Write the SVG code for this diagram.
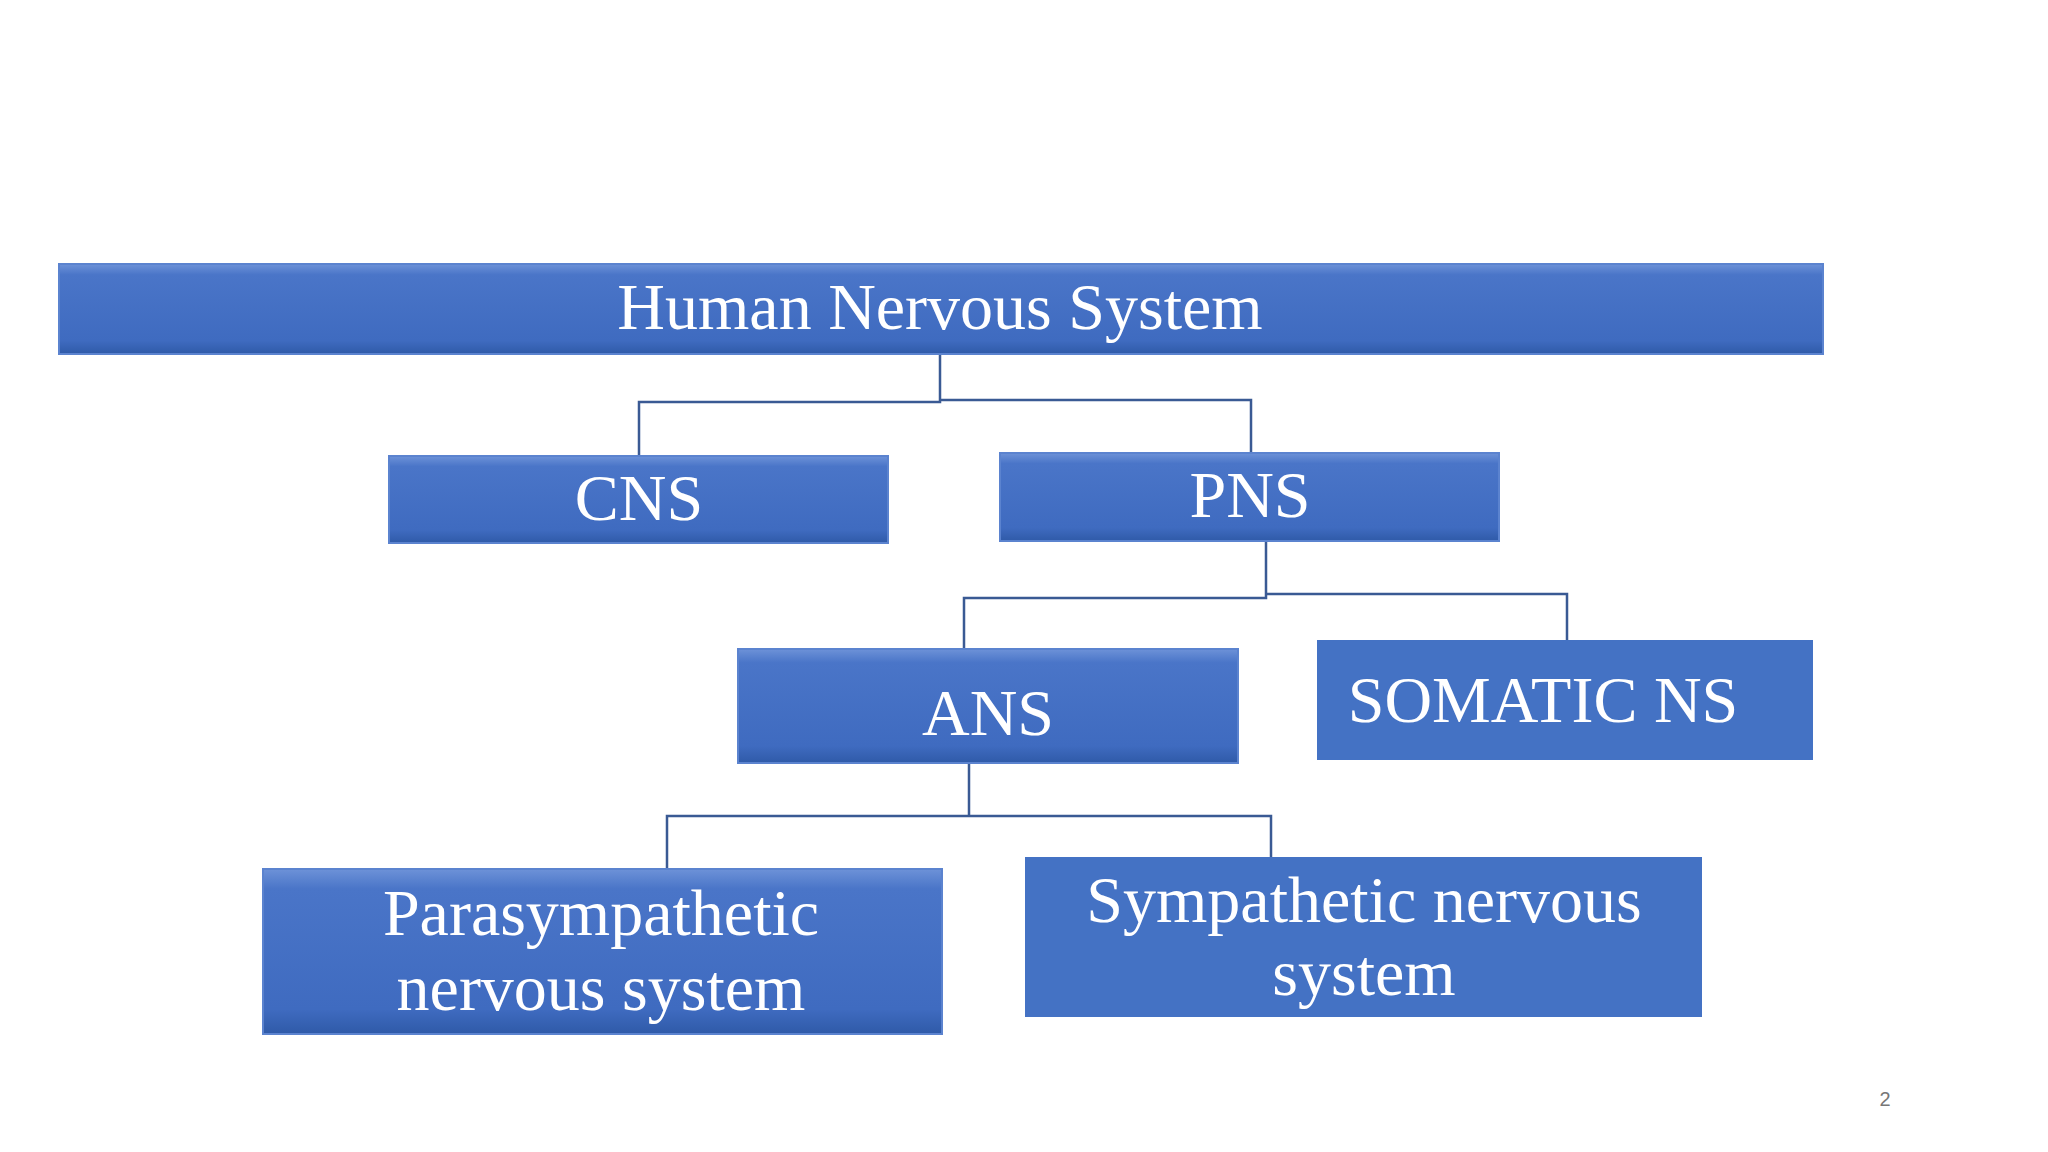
<svg xmlns="http://www.w3.org/2000/svg" width="2048" height="1152" viewBox="0 0 2048 1152">
<defs>
<linearGradient id="g" x1="0" y1="0" x2="0" y2="1">
<stop offset="0" stop-color="#6d92d8"/><stop offset="0.12" stop-color="#4a75c8"/><stop offset="0.85" stop-color="#3f6bc0"/><stop offset="1" stop-color="#2f5aa8"/>
</linearGradient>
<style>
.b{fill:url(#g);stroke:#5b83cf;stroke-width:2}
.f{fill:#4472c4}
.t{font-family:"Liberation Serif",serif;font-size:66px;fill:#fff;text-anchor:middle}
.c{fill:none;stroke:#3a5a94;stroke-width:2.5}
</style>
</defs>
<rect width="2048" height="1152" fill="#fff"/>
<g id="connectors">
<path class="c" d="M940 354V402H639V456M940 400H1251V453"/>
<path class="c" d="M1266 541V598H964V649M1266 594H1567V640"/>
<path class="c" d="M969 763V816H667V869M969 816H1271V857"/>
</g>
<g id="hns"><rect class="b" x="59" y="264" width="1764" height="90"/><text class="t" x="940" y="329">Human Nervous System</text></g>
<g id="cns"><rect class="b" x="389" y="456" width="499" height="87"/><text class="t" x="639" y="520">CNS</text></g>
<g id="pns"><rect class="b" x="1000" y="453" width="499" height="88"/><text class="t" x="1250" y="517">PNS</text></g>
<g id="ans"><rect class="b" x="738" y="649" width="500" height="114"/><text class="t" x="988" y="735">ANS</text></g>
<g id="somatic"><rect class="f" x="1317" y="640" width="496" height="120"/><text class="t" x="1543" y="722">SOMATIC NS</text></g>
<g id="para"><rect class="b" x="263" y="869" width="679" height="165"/><text class="t" x="601" y="935">Parasympathetic</text><text class="t" x="601" y="1010">nervous system</text></g>
<g id="symp"><rect class="f" x="1025" y="857" width="677" height="160"/><text class="t" x="1364" y="922">Sympathetic nervous</text><text class="t" x="1364" y="995">system</text></g>
<text x="1885" y="1106" font-family="Liberation Sans,sans-serif" font-size="20" fill="#777" text-anchor="middle">2</text>
</svg>
